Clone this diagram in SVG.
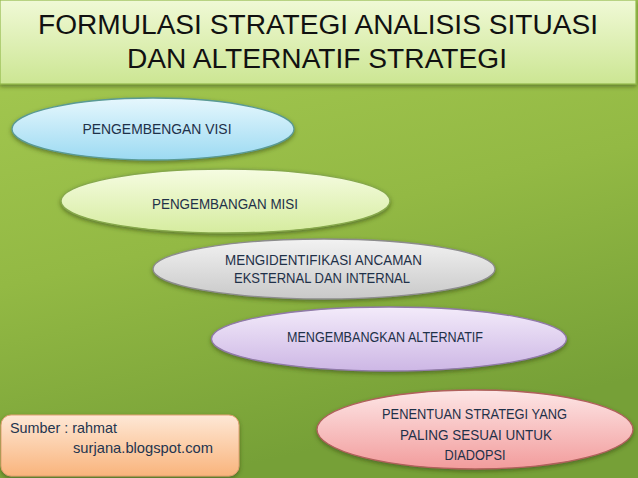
<svg xmlns="http://www.w3.org/2000/svg" width="638" height="478" viewBox="0 0 638 478">
<defs>
<linearGradient id="bg" x1="0" y1="0" x2="0.3" y2="1">
<stop offset="0" stop-color="#a7cb53"/>
<stop offset="0.55" stop-color="#93b944"/>
<stop offset="1" stop-color="#76a037"/>
</linearGradient>
<linearGradient id="hdr" x1="0" y1="0" x2="0" y2="1">
<stop offset="0" stop-color="#f0f9d6"/>
<stop offset="1" stop-color="#cce693"/>
</linearGradient>
<linearGradient id="gBlue" x1="0" y1="0" x2="0" y2="1">
<stop offset="0" stop-color="#e6f7fd"/>
<stop offset="1" stop-color="#9cdaf2"/>
</linearGradient>
<linearGradient id="gLime" x1="0" y1="0" x2="0" y2="1">
<stop offset="0" stop-color="#f6fce2"/>
<stop offset="1" stop-color="#d6ec9f"/>
</linearGradient>
<linearGradient id="gGray" x1="0" y1="0" x2="0" y2="1">
<stop offset="0" stop-color="#f2f2f2"/>
<stop offset="1" stop-color="#c9c9c9"/>
</linearGradient>
<linearGradient id="gLav" x1="0" y1="0" x2="0" y2="1">
<stop offset="0" stop-color="#f3ebfa"/>
<stop offset="1" stop-color="#cdb7e5"/>
</linearGradient>
<linearGradient id="gPink" x1="0" y1="0" x2="0" y2="1">
<stop offset="0" stop-color="#fde6e6"/>
<stop offset="1" stop-color="#f29c9c"/>
</linearGradient>
<linearGradient id="gPeach" x1="0" y1="0" x2="0" y2="1">
<stop offset="0" stop-color="#fee8d6"/>
<stop offset="1" stop-color="#f9b47c"/>
</linearGradient>
<filter id="sh" x="-10%" y="-20%" width="120%" height="150%">
<feDropShadow dx="0" dy="2" stdDeviation="2" flood-color="#2d4010" flood-opacity="0.55"/>
</filter>
</defs>
<style>
.lbl{font-family:"Liberation Sans",Arial,sans-serif;font-size:14.5px;fill:#1f3149;text-anchor:middle}
.src{font-family:"Liberation Sans",Arial,sans-serif;font-size:14.5px;fill:#24354f}
.ttl{font-family:"Liberation Sans",Arial,sans-serif;font-size:27px;fill:#111111}
.n{stroke-width:1.3}
</style>
<rect x="0" y="0" width="638" height="478" fill="url(#bg)"/>
<g id="header">
<rect x="0" y="0" width="636" height="84" fill="url(#hdr)" stroke="#93ba4c" stroke-width="1.2" filter="url(#sh)"/>
<text class="ttl" x="38" y="34" textLength="560" lengthAdjust="spacingAndGlyphs">FORMULASI STRATEGI ANALISIS SITUASI</text>
<text class="ttl" x="127" y="68" textLength="380" lengthAdjust="spacingAndGlyphs">DAN ALTERNATIF STRATEGI</text>
</g>
<g id="connectors"></g>
<g id="visi">
<ellipse class="n" cx="153" cy="129" rx="141" ry="31" fill="url(#gBlue)" stroke="#5a9a94" filter="url(#sh)"/>
<text class="lbl" x="157" y="134" textLength="149" lengthAdjust="spacingAndGlyphs">PENGEMBENGAN VISI</text>
</g>
<g id="misi">
<ellipse class="n" cx="225.5" cy="201" rx="164.5" ry="32" fill="url(#gLime)" stroke="#86a84c" filter="url(#sh)"/>
<text class="lbl" x="225" y="209" textLength="146" lengthAdjust="spacingAndGlyphs">PENGEMBANGAN MISI</text>
</g>
<g id="ancaman">
<ellipse class="n" cx="324" cy="269" rx="171" ry="30" fill="url(#gGray)" stroke="#8c8c8c" filter="url(#sh)"/>
<text class="lbl" x="323.5" y="265" textLength="197" lengthAdjust="spacingAndGlyphs">MENGIDENTIFIKASI ANCAMAN</text>
<text class="lbl" x="322" y="283" textLength="176" lengthAdjust="spacingAndGlyphs">EKSTERNAL DAN INTERNAL</text>
</g>
<g id="alternatif">
<ellipse class="n" cx="389" cy="339" rx="177.5" ry="32" fill="url(#gLav)" stroke="#907aa8" filter="url(#sh)"/>
<text class="lbl" x="385" y="342" textLength="196" lengthAdjust="spacingAndGlyphs">MENGEMBANGKAN ALTERNATIF</text>
</g>
<g id="penentuan">
<ellipse class="n" cx="475" cy="429.5" rx="158" ry="39.5" fill="url(#gPink)" stroke="#b0605c" filter="url(#sh)"/>
<text class="lbl" x="474.5" y="419" textLength="185" lengthAdjust="spacingAndGlyphs">PENENTUAN STRATEGI YANG</text>
<text class="lbl" x="476" y="440" textLength="152" lengthAdjust="spacingAndGlyphs">PALING SESUAI UNTUK</text>
<text class="lbl" x="475" y="460" textLength="61" lengthAdjust="spacingAndGlyphs">DIADOPSI</text>
</g>
<g id="sumber">
<rect x="1" y="415" width="238" height="61" rx="10" fill="url(#gPeach)" stroke="#e0a070" stroke-width="1" filter="url(#sh)"/>
<text class="src" x="10" y="433" textLength="107" lengthAdjust="spacingAndGlyphs">Sumber : rahmat</text>
<text class="src" x="73" y="453" textLength="140" lengthAdjust="spacingAndGlyphs">surjana.blogspot.com</text>
</g>
</svg>
